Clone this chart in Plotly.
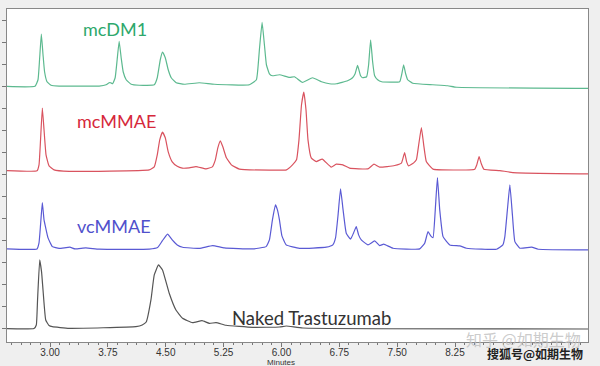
import plotly.graph_objects as go

# ---- data (time in minutes, signal in arbitrary units above each trace's baseline) ----
series_names = ["mcDM1", "mcMMAE", "vcMMAE", "Naked Trastuzumab"]

mcdm1_t = [2.442, 2.805, 2.844, 2.864, 2.887, 2.909, 2.929, 2.961, 3.013, 3.117, 3.636, 3.727, 3.766, 3.786, 3.812,
           3.844, 3.870, 3.896, 3.922, 3.948, 3.987, 4.052, 4.156, 4.351, 4.390, 4.429, 4.458, 4.494, 4.532, 4.571,
           4.636, 4.740, 4.935, 5.130, 5.584, 5.675, 5.714, 5.749, 5.779, 5.805, 5.844, 5.883, 5.974, 6.104, 6.169,
           6.273, 6.403, 6.519, 6.623, 6.714, 6.857, 6.922, 6.955, 6.987, 7.026, 7.052, 7.104, 7.130, 7.156, 7.182,
           7.208, 7.247, 7.299, 7.532, 7.558, 7.584, 7.610, 7.636, 7.701, 7.961, 8.156, 8.273, 9.974]
mcdm1_v = [0, 0.2, 6.7, 26.7, 52.4, 31.7, 14.7, 4.7, 1.2, 0.4, 0.4, 1.7, 3.7, 3.7, 2.7,
           8.7, 26.7, 45, 28.7, 14.7, 6.7, 2.2, 1.2, 1.7, 8.7, 26.7, 34.4, 28.7, 16.7, 8.7,
           3.7, 2.2, 3.7, 2.2, 1.7, 6.7, 36.7, 64, 41.7, 21.7, 12.7, 10.7, 11.7, 9, 9.7,
           4, 8.7, 4.7, 2.7, 2.7, 5.7, 8.7, 12.7, 21, 10.7, 8.7, 9.7, 21.7, 46.7, 24.7,
           10.7, 6.7, 4.7, 4.7, 11.7, 21.7, 12.7, 6.7, 3.2, 1.7, 0.7, -0.8, -2]

mcmmae_t = [2.442, 2.831, 2.857, 2.877, 2.900, 2.922, 2.948, 2.987, 3.052, 3.247, 4.286, 4.351, 4.390, 4.422, 4.458,
            4.494, 4.532, 4.584, 4.649, 4.714, 4.805, 4.892, 5.022, 5.104, 5.143, 5.175, 5.208, 5.240, 5.286, 5.351,
            5.455, 5.844, 6.065, 6.143, 6.195, 6.227, 6.260, 6.290, 6.318, 6.344, 6.386, 6.451, 6.529, 6.645, 6.710,
            6.796, 6.883, 7.121, 7.199, 7.273, 7.468, 7.555, 7.597, 7.623, 7.649, 7.714, 7.749, 7.779, 7.814, 7.844,
            7.879, 7.965, 8.506, 8.532, 8.562, 8.591, 8.623, 8.831, 9.000, 9.974]
mcmmae_v = [0, -0.3, 5.7, 30.7, 62.4, 40.7, 15.7, 4.7, 0.7, -0.8, 0.7, 3.7, 15.7, 30.7, 38.4,
            32.7, 18.7, 8.7, 4.2, 2.4, 2.7, 4, 1.7, 3.7, 10.7, 22.7, 29.7, 23.7, 12.7, 5.7,
            1.4, 0.4, 0.7, 5.7, 10.7, 30.7, 65.7, 78.4, 60.7, 30.7, 12.7, 9, 11.4, 3.4, 6.4,
            5.7, 2.4, 1.7, 6.4, 3.4, 5, 7.4, 18, 8.7, 4.7, 7.7, 10.7, 25.7, 43, 25.7,
            8.7, 1.4, 1.4, 5.7, 14, 6.7, 1.4, 0, -2, -3.3]

vcmmae_t = [2.442, 2.831, 2.857, 2.877, 2.900, 2.922, 2.944, 2.974, 3.030, 3.117, 3.256, 3.325, 3.464, 3.636, 4.286,
            4.394, 4.455, 4.523, 4.584, 4.649, 4.718, 4.935, 5.108, 5.260, 5.627, 5.801, 5.844, 5.883, 5.922, 5.948,
            5.974, 6.006, 6.061, 6.234, 6.581, 6.666, 6.701, 6.734, 6.766, 6.799, 6.840, 6.896, 6.935, 6.970, 7.000,
            7.035, 7.121, 7.208, 7.273, 7.325, 7.445, 7.792, 7.857, 7.900, 7.935, 7.965, 7.994, 8.022, 8.052, 8.095,
            8.182, 8.312, 8.399, 8.788, 8.870, 8.896, 8.929, 8.961, 8.994, 9.026, 9.091, 9.243, 9.329, 9.974]
vcmmae_v = [-0.3, -0.3, 5.7, 23.7, 46, 28.7, 20.7, 10.7, 2, 0.2, 1.4, -0.3, 0.7, -0.6, -0.6,
            1, 7.7, 14.4, 8.7, 3.7, 1.4, 0.2, 3, 0.7, -0.3, 2, 8.7, 28.7, 43.7, 38.7,
            28.7, 12.7, 3.7, 0.2, 1.4, 3.7, 10.7, 33.7, 59.7, 38.7, 15.4, 9.4, 15.7, 22, 13.7,
            8.7, 3.7, 7.7, 3, 4.4, 0.4, -0.3, 5.4, 17, 12.7, 11, 38.7, 71, 38.7, 12,
            3.7, 2.7, 0.4, -0.6, 3.7, 12, 38.7, 63.7, 33.7, 7, 0.4, 1.4, -0.6, -1.3]

naked_t = [2.442, 2.792, 2.822, 2.838, 2.866, 2.890, 2.909, 2.944, 2.987, 3.030, 3.247, 4.113, 4.195, 4.247, 4.308,
           4.351, 4.406, 4.458, 4.545, 4.632, 4.718, 4.848, 4.970, 5.065, 5.152, 5.282, 5.627, 5.974, 6.061, 6.277,
           9.974]
naked_v = [0, 0.2, 3.7, 28.7, 68.7, 56.7, 38.7, 8.7, 3.2, 2, 0.4, 2, 3.7, 6.7, 28.7,
           53.7, 63.7, 58.7, 35.4, 18.7, 10.4, 6, 8, 5.4, 6, 3.4, 1.4, 1.7, 2.7, 0.7,
           -0.3]

# stacking offsets of the four traces
offsets = [242, 158, 80, 0]

x_tick_vals = [3.00, 3.75, 4.50, 5.25, 6.00, 6.75, 7.50, 8.25]
x_tick_text = ["3.00", "3.75", "4.50", "5.25", "6.00", "6.75", "7.50", "8.25"]

line_colors = ["#5cb98f", "#d9535f", "#5a5ad4", "#555555"]
text_colors = ["#2ea86c", "#d6283b", "#5050cc", "#333333"]

times = [mcdm1_t, mcmmae_t, vcmmae_t, naked_t]
values = [mcdm1_v, mcmmae_v, vcmmae_v, naked_v]

fig = go.Figure()
for name, t, v, off, col in zip(series_names, times, values, offsets, line_colors):
    fig.add_trace(go.Scatter(x=t, y=[s + off for s in v], mode="lines", name=name,
                             line=dict(color=col, width=1.2, shape="spline", smoothing=0.35),
                             showlegend=False, hoverinfo="skip"))

# series labels
label_pos = [(3.844, 299.5, 18), (3.864, 208, 18), (3.825, 102.7, 18), (6.386, 10.7, 18.5)]
for name, (lx, ly, fs), col in zip(series_names, label_pos, text_colors):
    fig.add_annotation(x=lx, y=ly, xref="x", yref="y", text=name, showarrow=False,
                       xanchor="center", yanchor="middle",
                       font=dict(family="Lato, sans-serif", size=fs, color=col))

fig.add_annotation(x=6.0, y=0, xref="x", yref="paper", yshift=-20, text="Minutes", showarrow=False,
                   xanchor="center", yanchor="middle", font=dict(family="Liberation Sans, Arial", size=8, color="#333"))

# watermarks
fig.add_annotation(x=0.991, y=0.0, xref="paper", yref="paper", text="知乎 @如期生物", showarrow=False,
                   xanchor="right", yanchor="middle", yshift=3,
                   font=dict(family="Noto Sans CJK SC", size=16, color="rgba(190,190,190,0.8)"))
fig.add_annotation(x=0.995, y=0.0, xref="paper", yref="paper", text="<b>搜狐号@如期生物</b>", showarrow=False,
                   xanchor="right", yanchor="middle", yshift=-11,
                   font=dict(family="Noto Sans CJK SC", size=12, color="#222"))

fig.update_xaxes(range=[2.442, 9.974], tickvals=x_tick_vals, ticktext=x_tick_text, automargin=False,
                 ticks="outside", ticklen=4, tickcolor="#777", showline=True, linecolor="#888", linewidth=1,
                 mirror=True, showgrid=False, zeroline=False, ticklabelstandoff=-3,
                 tickfont=dict(family="Liberation Sans, Arial", size=10, color="#333"),
                 minor=dict(dtick=0.125, tick0=3, ticks="outside", ticklen=2, tickcolor="#777", showgrid=False))
fig.update_yaxes(range=[-13.3, 319.4], tick0=0, dtick=22, ticks="outside", ticklen=4, tickcolor="#777",
                 showticklabels=False, showline=True, linecolor="#888", linewidth=1, mirror=True,
                 showgrid=False, zeroline=False, automargin=False)

fig.update_layout(width=600, height=366, margin=dict(l=7, r=12, t=9, b=24),
                  paper_bgcolor="#efefef", plot_bgcolor="white")

fig.write_html("out.html", config={"displayModeBar": False},
               post_script="document.body.style.margin='0';document.body.style.padding='0';")
